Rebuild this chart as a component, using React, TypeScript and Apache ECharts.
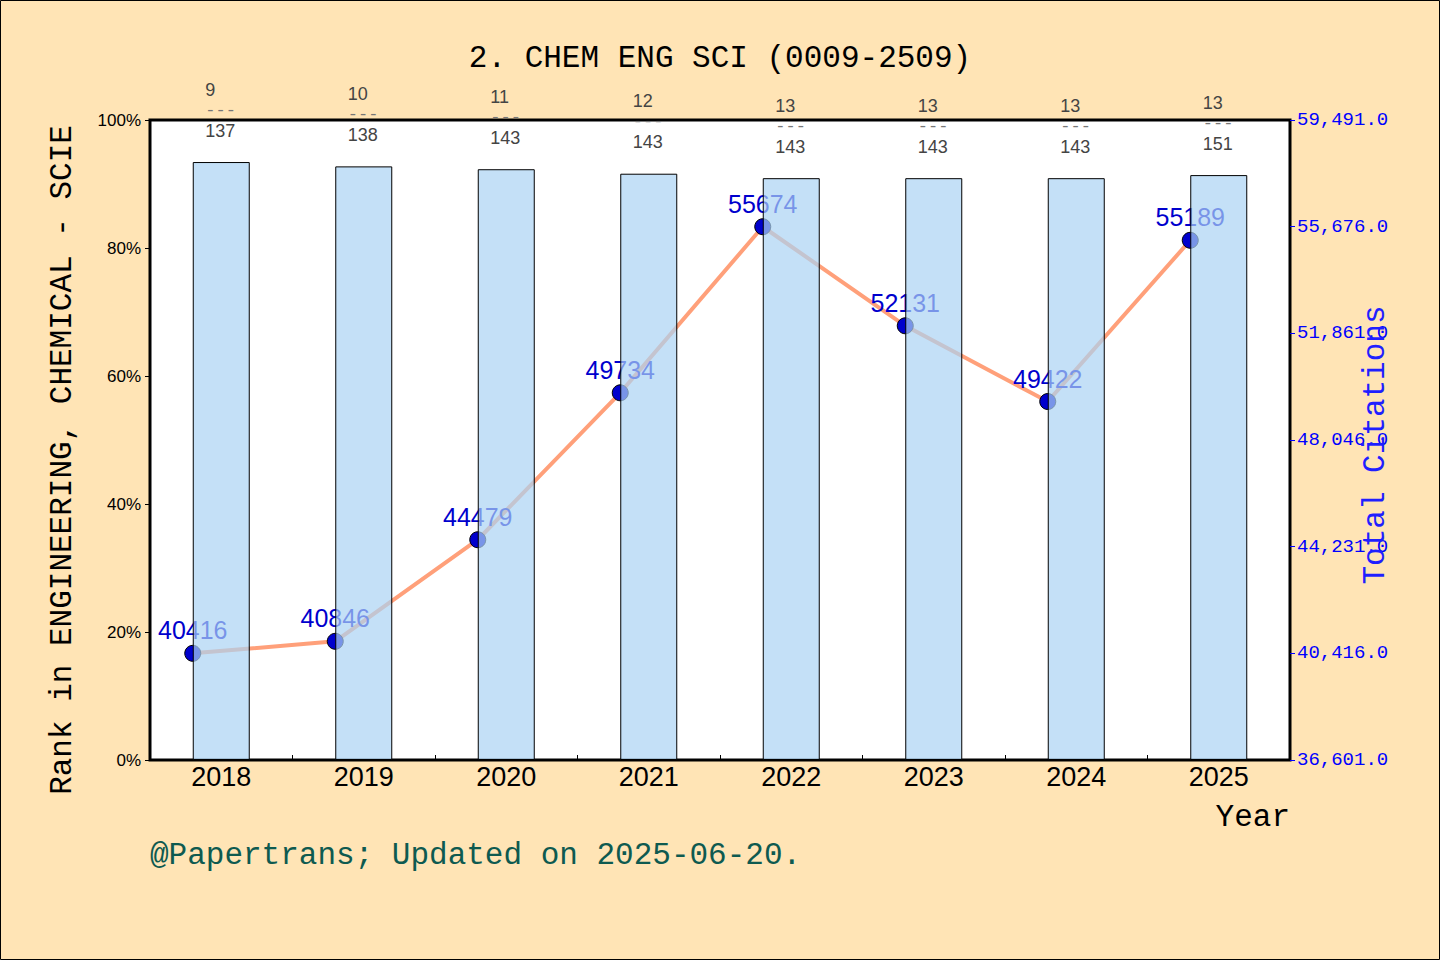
import React, { useEffect, useRef } from 'react';
import * as echarts from 'echarts';

const years = ['2018', '2019', '2020', '2021', '2022', '2023', '2024', '2025'];
const ranks = [9, 10, 11, 12, 13, 13, 13, 13];
const totals = [137, 138, 143, 143, 143, 143, 143, 151];
const citations = [40416, 40846, 44479, 49734, 55674, 52131, 49422, 55189];
const citationTicks = [36601, 40416, 44231, 48046, 51861, 55676, 59491];

const MONO = '"Liberation Mono", "DejaVu Sans Mono", monospace';
const SANS = '"Liberation Sans", Arial, sans-serif';

const App: React.FC = () => {
  const chartRef = useRef<HTMLDivElement>(null);

  useEffect(() => {
    document.body.style.margin = '0';
    if (!chartRef.current) return;
    const chart = echarts.init(chartRef.current, undefined, { renderer: 'svg' });

    const percentData = ranks.map((r, i) => (1 - r / totals[i]) * 100);
    const lineData = citations.map((v, i) => [i, v]);

    const option: echarts.EChartsOption = {
      animation: false,
      backgroundColor: '#FFE4B5',
      title: {
        text: '2. CHEM ENG SCI (0009-2509)',
        left: 'center',
        top: 38,
        textStyle: { fontFamily: MONO, fontSize: 31, fontWeight: 'normal', color: '#000' },
      },
      grid: {
        left: 150,
        right: 150,
        top: 120,
        bottom: 200,
        show: true,
        backgroundColor: '#fff',
        borderColor: '#000',
        borderWidth: 3,
        outerBoundsMode: 'none',
      } as any,
      xAxis: [
        {
          type: 'category',
          data: years,
          boundaryGap: true,
          axisLine: { show: false, onZero: false },
          axisTick: { show: true, inside: true, length: 5, interval: 0, lineStyle: { color: '#000' } },
          axisLabel: { fontFamily: SANS, fontSize: 27, color: '#000', margin: 3, interval: 0 },
        },
        {
          type: 'value',
          min: -0.3,
          max: 7.7,
          show: false,
          axisLine: { onZero: false },
        },
      ],
      yAxis: [
        {
          type: 'value',
          min: 0,
          max: 100,
          interval: 20,
          position: 'left',
          axisLine: { show: false, onZero: false },
          axisTick: { show: true, length: 5, lineStyle: { color: '#000' } },
          axisLabel: { formatter: '{value}%', fontFamily: SANS, fontSize: 17, color: '#000', margin: 9 },
          splitLine: { show: false },
        },
        {
          type: 'value',
          min: citationTicks[0],
          max: citationTicks[citationTicks.length - 1],
          position: 'right',
          axisLine: { show: false, onZero: false },
          axisTick: {
            show: true,
            length: 5,
            customValues: citationTicks,
            lineStyle: { color: '#0000FF' },
          },
          axisLabel: {
            customValues: citationTicks,
            formatter: (v: number) =>
              v.toLocaleString('en-US', { minimumFractionDigits: 1, maximumFractionDigits: 1 }),
            fontFamily: MONO,
            fontSize: 19,
            color: '#0000FF',
            margin: 7,
          },
          splitLine: { show: false },
        } as any,
      ],
      graphic: [
        {
          type: 'rect',
          shape: { x: 0.5, y: 0.5, width: 1439, height: 959 },
          style: { fill: 'none', stroke: '#000', lineWidth: 1 },
          silent: true,
        },
        {
          type: 'text',
          x: 62,
          y: 460,
          rotation: Math.PI / 2,
          style: {
            text: 'Rank in ENGINEERING, CHEMICAL - SCIE',
            fontFamily: MONO,
            fontSize: 31,
            fill: '#000',
            align: 'center',
            verticalAlign: 'middle',
          },
        },
        {
          type: 'text',
          x: 1375,
          y: 445,
          rotation: Math.PI / 2,
          z: 10,
          style: {
            text: 'Total Citations',
            fontFamily: MONO,
            fontSize: 31,
            fill: '#1F1FFF',
            align: 'center',
            verticalAlign: 'middle',
          },
        },
        {
          type: 'text',
          x: 1290,
          y: 817,
          style: {
            text: 'Year',
            fontFamily: MONO,
            fontSize: 31,
            fill: '#000',
            align: 'right',
            verticalAlign: 'middle',
          },
        },
        {
          type: 'text',
          x: 150,
          y: 855,
          style: {
            text: '@Papertrans; Updated on 2025-06-20.',
            fontFamily: MONO,
            fontSize: 31,
            fill: '#0E5A50',
            align: 'left',
            verticalAlign: 'middle',
          },
        },
      ],
      series: [
        {
          type: 'line',
          xAxisIndex: 1,
          yAxisIndex: 1,
          data: lineData,
          z: 2,
          symbol: 'circle',
          symbolSize: 16,
          lineStyle: { color: '#FFA07A', width: 4 },
          itemStyle: { color: '#0000CD', borderColor: '#000', borderWidth: 1 },
          label: {
            show: true,
            position: 'top',
            distance: 2,
            formatter: (p: any) => String(p.value[1]),
            fontFamily: SANS,
            fontSize: 25,
            color: '#0000CD',
          },
        },
        {
          type: 'bar',
          xAxisIndex: 0,
          yAxisIndex: 0,
          data: percentData,
          z: 5,
          barWidth: 57,
          itemStyle: { color: 'rgba(171,211,244,0.7)', borderColor: '#000', borderWidth: 1 },
          label: {
            show: true,
            position: 'top',
            distance: 21,
            align: 'left',
            offset: [-16, 0],
            formatter: (p: any) => `{n|${ranks[p.dataIndex]}}\n{d|---}\n{n|${totals[p.dataIndex]}}`,
            rich: {
              n: { fontFamily: SANS, fontSize: 18, color: '#444', lineHeight: 20.5 },
              d: { fontFamily: MONO, fontSize: 17, color: '#777', lineHeight: 20.5 },
            },
          },
        },
      ],
    };

    chart.setOption(option);
    return () => {
      chart.dispose();
    };
  }, []);

  return <div ref={chartRef} style={{ width: '1440px', height: '960px' }} />;
};

export default App;
